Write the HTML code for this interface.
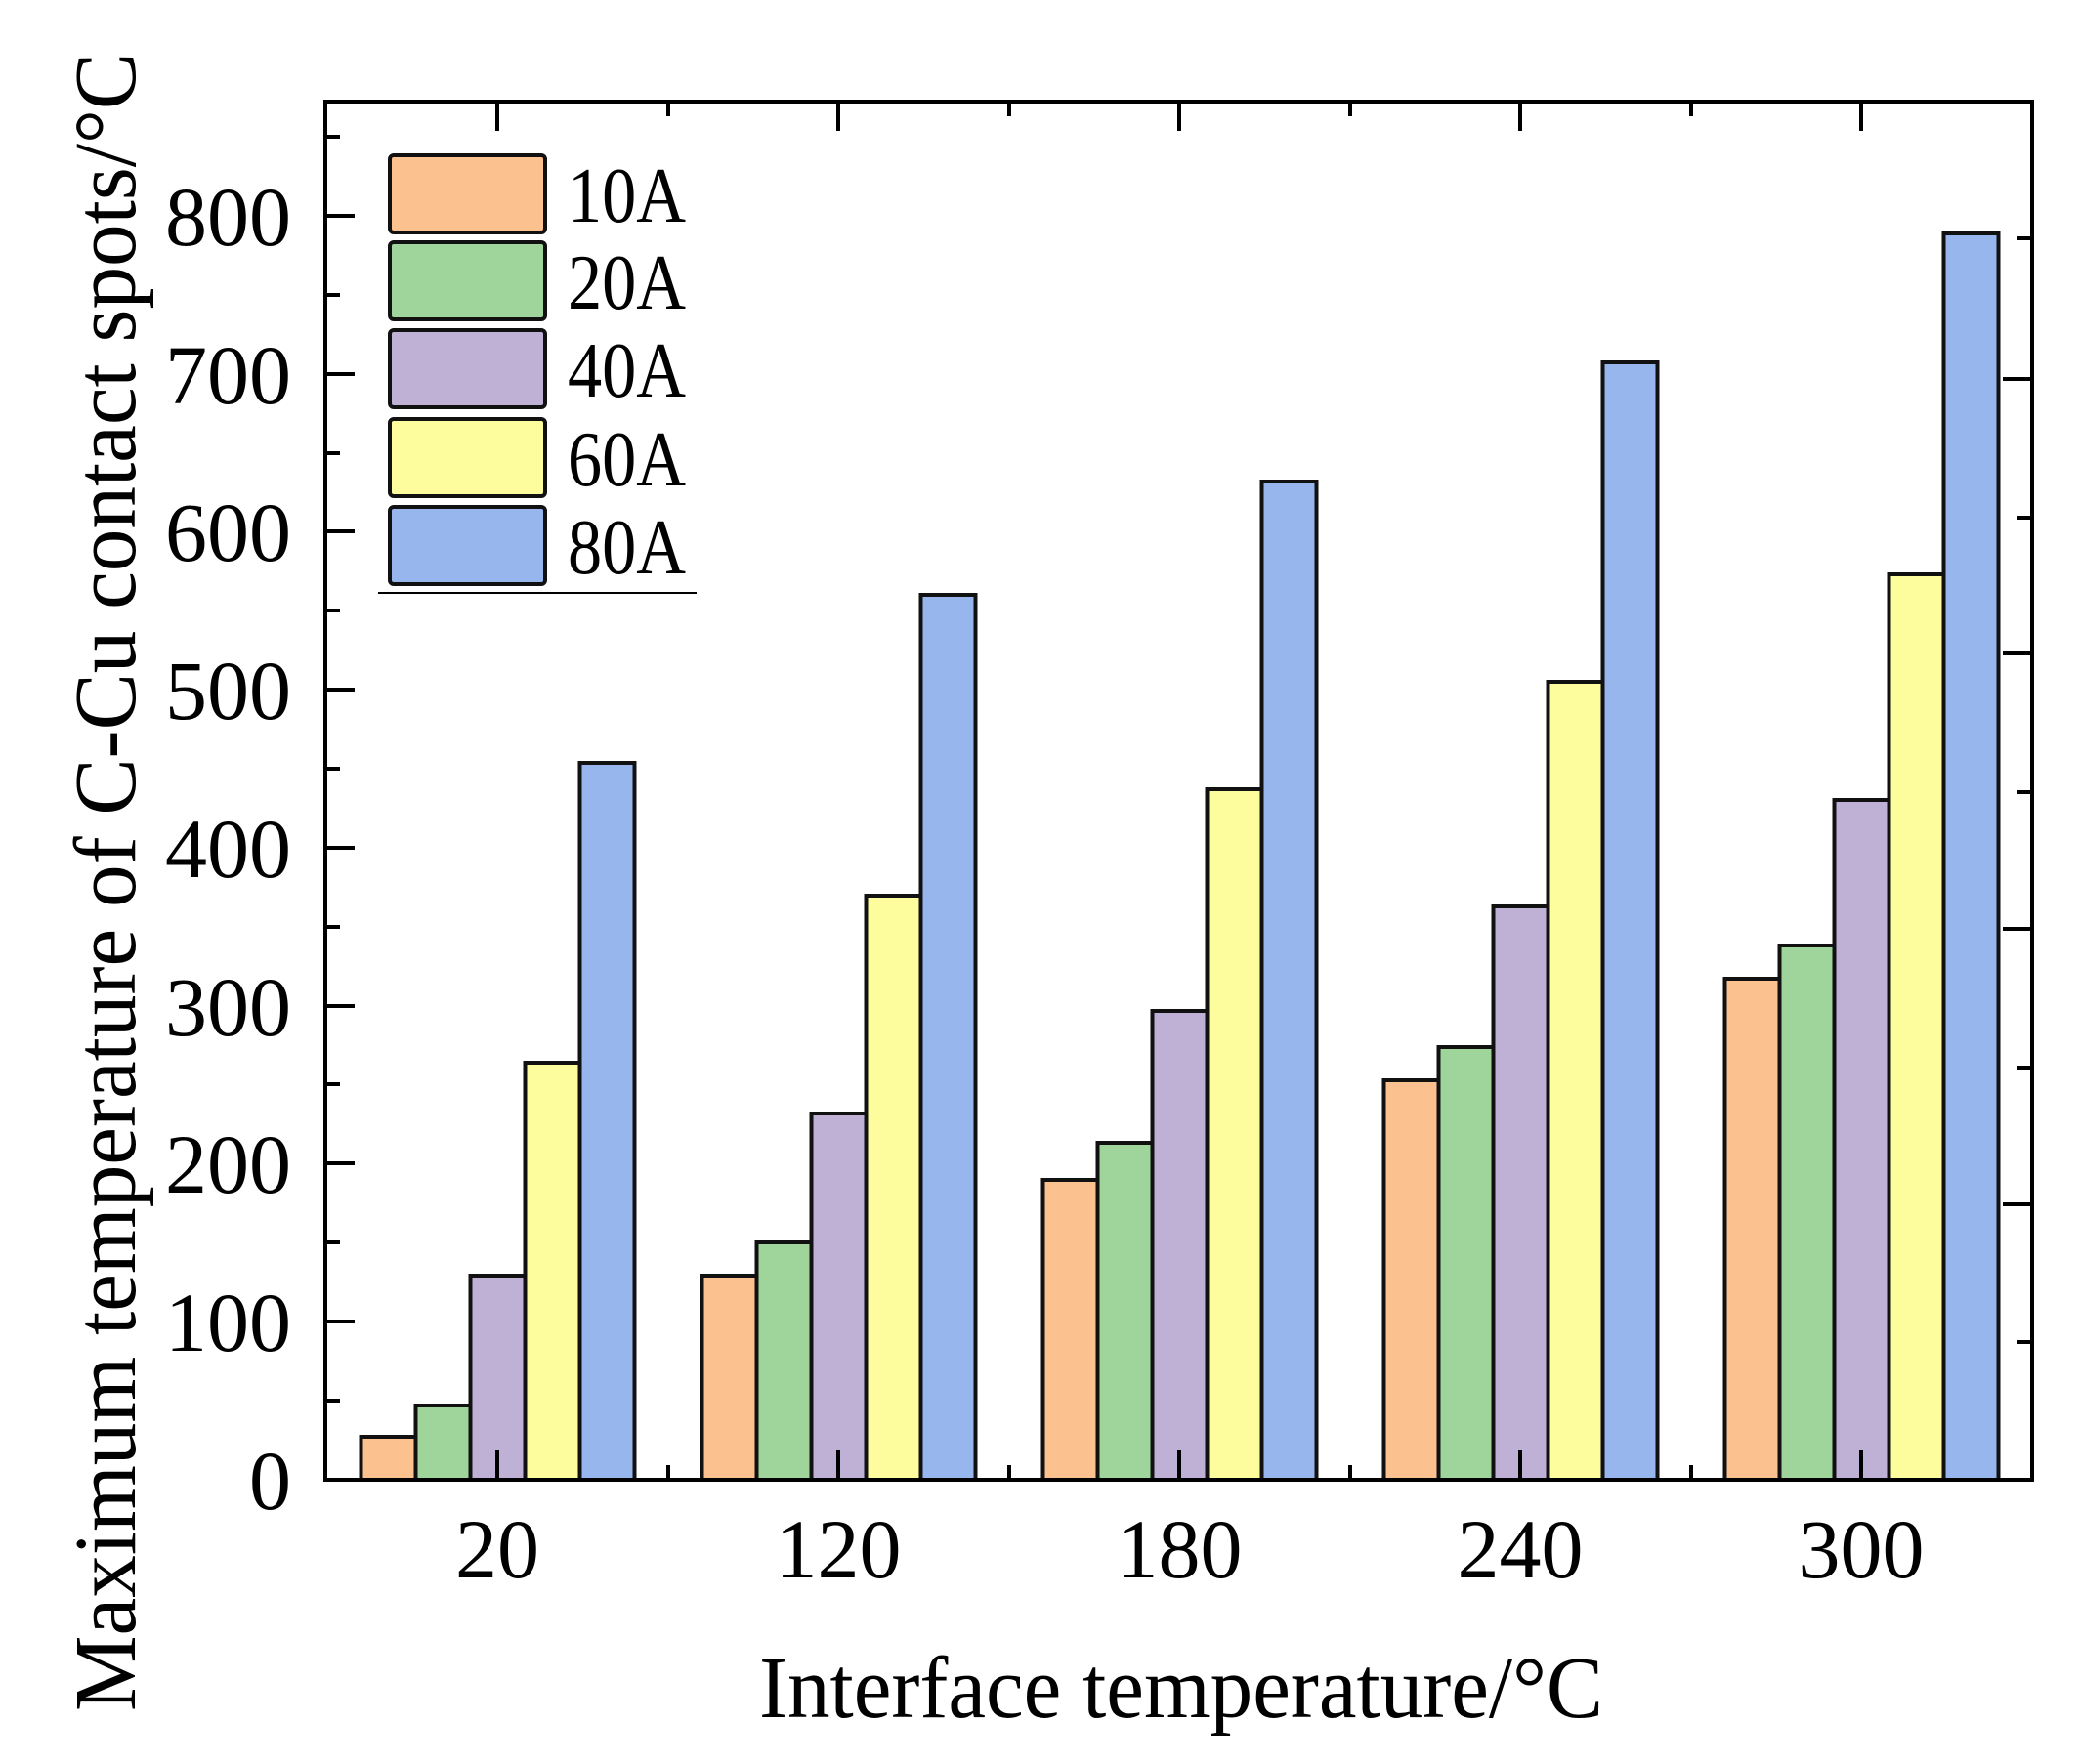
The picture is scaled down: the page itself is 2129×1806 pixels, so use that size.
<!DOCTYPE html>
<html><head><meta charset="utf-8"><style>html,body{margin:0;padding:0;background:#fff}</style></head>
<body>
<svg width="2129" height="1801" viewBox="0 0 2129 1801" xmlns="http://www.w3.org/2000/svg" font-family="Liberation Serif, serif">
<rect width="2129" height="1801" fill="#fff"/>
<g stroke="#111" stroke-width="4">
<rect x="369.5" y="1471" width="56" height="44" fill="#fbc18f"/>
<rect x="425.5" y="1439" width="56" height="76" fill="#9fd49a"/>
<rect x="481.5" y="1306" width="56" height="209" fill="#bfb0d6"/>
<rect x="537.5" y="1088" width="56" height="427" fill="#fdfd9d"/>
<rect x="593.5" y="781" width="56" height="734" fill="#97b6ee"/>
<rect x="718.5" y="1306" width="56" height="209" fill="#fbc18f"/>
<rect x="774.5" y="1272" width="56" height="243" fill="#9fd49a"/>
<rect x="830.5" y="1140" width="56" height="375" fill="#bfb0d6"/>
<rect x="886.5" y="917" width="56" height="598" fill="#fdfd9d"/>
<rect x="942.5" y="609" width="56" height="906" fill="#97b6ee"/>
<rect x="1067.5" y="1208" width="56" height="307" fill="#fbc18f"/>
<rect x="1123.5" y="1170" width="56" height="345" fill="#9fd49a"/>
<rect x="1179.5" y="1035" width="56" height="480" fill="#bfb0d6"/>
<rect x="1235.5" y="808" width="56" height="707" fill="#fdfd9d"/>
<rect x="1291.5" y="493" width="56" height="1022" fill="#97b6ee"/>
<rect x="1416.5" y="1106" width="56" height="409" fill="#fbc18f"/>
<rect x="1472.5" y="1072" width="56" height="443" fill="#9fd49a"/>
<rect x="1528.5" y="928" width="56" height="587" fill="#bfb0d6"/>
<rect x="1584.5" y="698" width="56" height="817" fill="#fdfd9d"/>
<rect x="1640.5" y="371" width="56" height="1144" fill="#97b6ee"/>
<rect x="1765.5" y="1002" width="56" height="513" fill="#fbc18f"/>
<rect x="1821.5" y="968" width="56" height="547" fill="#9fd49a"/>
<rect x="1877.5" y="819" width="56" height="696" fill="#bfb0d6"/>
<rect x="1933.5" y="588" width="56" height="927" fill="#fdfd9d"/>
<rect x="1989.5" y="239" width="56" height="1276" fill="#97b6ee"/>
</g>
<rect x="333" y="104" width="1747" height="1411" fill="none" stroke="#000" stroke-width="4"/>
<g stroke="#000" stroke-width="4">
<path d="M333 1515h30M333 1353h30M333 1191h30M333 1030h30M333 868h30M333 706h30M333 544h30M333 383h30M333 221h30"/>
<path d="M333 1434h15M333 1272h15M333 1110h15M333 949h15M333 787h15M333 625h15M333 464h15M333 302h15M333 140h15"/>
<path d="M509 1515v-30M858 1515v-30M1207 1515v-30M1556 1515v-30M1905 1515v-30"/>
<path d="M684 1515v-15M1033 1515v-15M1382 1515v-15M1731 1515v-15"/>
<path d="M509 104v30M858 104v30M1207 104v30M1556 104v30M1905 104v30"/>
<path d="M684 104v15M1033 104v15M1382 104v15M1731 104v15"/>
<path d="M2080 388h-30M2080 669h-30M2080 951h-30M2080 1233h-30"/>
<path d="M2080 244h-15M2080 530h-15M2080 811h-15M2080 1093h-15M2080 1374h-15"/>
</g>
<g font-size="86" text-anchor="end" fill="#000">
<text x="298" y="1545">0</text>
<text x="298" y="1383">100</text>
<text x="298" y="1221">200</text>
<text x="298" y="1060">300</text>
<text x="298" y="898">400</text>
<text x="298" y="736">500</text>
<text x="298" y="574">600</text>
<text x="298" y="413">700</text>
<text x="298" y="251">800</text>
</g>
<g font-size="86" text-anchor="middle" fill="#000">
<text x="509" y="1615">20</text>
<text x="858" y="1615">120</text>
<text x="1207" y="1615">180</text>
<text x="1556" y="1615">240</text>
<text x="1905" y="1615">300</text>
</g>
<text x="1209" y="1758" font-size="90" text-anchor="middle" textLength="864" lengthAdjust="spacingAndGlyphs">Interface temperature/°C</text>
<text transform="translate(138,903) rotate(-90)" font-size="90" text-anchor="middle" textLength="1698" lengthAdjust="spacingAndGlyphs">Maximum temperature of C-Cu contact spots/°C</text>
<rect x="387" y="149" width="326" height="458" fill="#fff"/>
<line x1="387" y1="607" x2="713" y2="607" stroke="#000" stroke-width="2"/>
<g stroke="#111" stroke-width="4">
<rect x="399" y="159" width="159" height="79" rx="4" fill="#fbc18f"/>
<rect x="399" y="248" width="159" height="79" rx="4" fill="#9fd49a"/>
<rect x="399" y="338" width="159" height="79" rx="4" fill="#bfb0d6"/>
<rect x="399" y="429" width="159" height="79" rx="4" fill="#fdfd9d"/>
<rect x="399" y="519" width="159" height="79" rx="4" fill="#97b6ee"/>
</g>
<g font-size="80" fill="#000">
<text x="581" y="227" textLength="121" lengthAdjust="spacingAndGlyphs">10A</text>
<text x="581" y="316" textLength="121" lengthAdjust="spacingAndGlyphs">20A</text>
<text x="581" y="406" textLength="121" lengthAdjust="spacingAndGlyphs">40A</text>
<text x="581" y="497" textLength="121" lengthAdjust="spacingAndGlyphs">60A</text>
<text x="581" y="587" textLength="121" lengthAdjust="spacingAndGlyphs">80A</text>
</g>
</svg>
</body></html>
